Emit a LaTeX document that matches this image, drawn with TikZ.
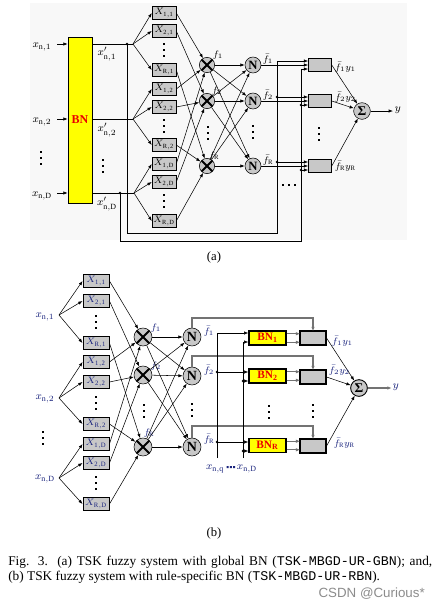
\documentclass[tikz,border=0pt]{standalone}
\usepackage{fontspec}
\setmainfont{Liberation Serif}
\setmonofont{Liberation Mono}
\newfontfamily\wmfont{Liberation Sans}
\usetikzlibrary{arrows.meta,calc}
\definecolor{boxgray}{RGB}{200,200,200}
\definecolor{bgA}{RGB}{248,248,248}
\definecolor{lblue}{RGB}{25,35,125}
\definecolor{bnred}{RGB}{235,0,0}
\definecolor{bnyel}{RGB}{255,255,0}
\newcommand\vdts[2]{\foreach \dy in {-6,0,6}{\fill (#1-1.2,#2+\dy-1.2) rectangle ++(2.4,2.4);}}
\newcommand\hdts[2]{\foreach \dx in {-6,0,6}{\fill (#1+\dx-1.2,#2-1.2) rectangle ++(2.4,2.4);}}
\newcommand\jdot[1]{\fill (#1) circle (1pt);}
\begin{document}
\begin{tikzpicture}[x=0.75pt,y=-0.75pt,
  line width=0.4pt,
  arr/.style={-{Latex[length=3.2pt,width=2.4pt]}},
  garr/.style={draw=black!55,line width=0.9pt,-{Latex[length=3.2pt,width=2.6pt]},shorten >=-0.5pt},
  lbl/.style={inner sep=0.5pt,font=\fontsize{8.5}{9}\selectfont},
  lblb/.style={lbl,text=lblue},
  sml/.style={inner sep=0.5pt,font=\fontsize{7}{7}\selectfont},
  smlb/.style={sml,text=lblue},
  mfa/.style={draw,fill=boxgray,minimum width=18pt,minimum height=9.5pt,inner sep=0pt,font=\fontsize{6.8}{7}\selectfont},
  mfb/.style={draw,line width=0.7pt,fill=boxgray,minimum width=19.5pt,minimum height=9.8pt,inner sep=0pt,font=\fontsize{7}{7}\selectfont,text=lblue},
  prod/.style={circle,draw,fill=boxgray,inner sep=0pt,
     path picture={\draw[line width=1.5pt] (path picture bounding box.south west) -- (path picture bounding box.north east)
        (path picture bounding box.north west) -- (path picture bounding box.south east);}},
  proda/.style={prod,minimum size=11.5pt},
  prodb/.style={prod,minimum size=13.5pt},
  nrm/.style={circle,draw,fill=boxgray,inner sep=0pt,font=\bfseries\fontsize{9.5}{9.5}\selectfont},
  nrma/.style={nrm,minimum size=12pt},
  nrmb/.style={nrm,minimum size=13.5pt,font=\bfseries\fontsize{10.5}{10.5}\selectfont},
  sumn/.style={circle,draw,fill=boxgray,minimum size=12.5pt,inner sep=0pt,font=\bfseries\fontsize{10}{10}\selectfont},
  rula/.style={draw,fill=boxgray,minimum width=17.25pt,minimum height=9.75pt,inner sep=0pt},
  rulb/.style={draw,line width=0.8pt,fill=boxgray,minimum width=19.5pt,minimum height=10.5pt,inner sep=0pt},
  bnb/.style={draw,line width=0.9pt,fill=bnyel,minimum width=27.75pt,minimum height=10.5pt,inner sep=0pt,text=bnred,font=\bfseries\fontsize{8.5}{8.5}\selectfont}
]
\useasboundingbox (0,0) rectangle (439,608);
\fill[white] (0,0) rectangle (439,608);
\fill[bgA] (30,3) rectangle (407,240);

%% ================= (a) =================
\node[draw,fill=bnyel,minimum width=18pt,minimum height=124.5pt,inner sep=0pt,text=bnred,font=\bfseries\fontsize{9}{9}\selectfont] (bn) at (80,120) {BN};
\node[lbl] (xa1) at (42,47) {$x_{\mathrm{n},1}$};
\node[lbl] (xa2) at (42,122) {$x_{\mathrm{n},2}$};
\node[lbl] (xaD) at (42,196) {$x_{\mathrm{n,D}}$};
\coordinate (ia1) at (57,44); \coordinate (ia2) at (57,119); \coordinate (iaD) at (57,193);
\draw[arr] (ia1) -- (ia1 -| bn.west);
\draw[arr] (ia2) -- (ia2 -| bn.west);
\draw[arr] (iaD) -- (iaD -| bn.west);
\vdts{41}{158}
\node[lbl] (xpa1) at (107,54) {$x'_{\mathrm{n},1}$};
\node[lbl] (xpa2) at (107,130) {$x'_{\mathrm{n},2}$};
\node[lbl] (xpaD) at (107,204) {$x'_{\mathrm{n,D}}$};
\vdts{103}{166}

\foreach \nm/\yy/\lab in {ma11/13/{1,1},ma21/31/{2,1},maR1/70/{R,1},ma12/89/{1,2},ma22/107/{2,2},maR2/145/{R,2},ma1D/164/{1,D},ma2D/182/{2,D},maRD/221/{R,D}}
  \node[mfa] (\nm) at (164,\yy) {$X_{\mathrm{\lab}}$};
\vdts{164}{50}\vdts{164}{126}\vdts{164}{201}

\coordinate (ba1) at (133,44); \coordinate (ba2) at (133,119); \coordinate (baD) at (134,193);
\draw (ba1 -| bn.east) -- (ba1);
\draw (ba2 -| bn.east) -- (ba2);
\draw (baD -| bn.east) -- (baD);
\foreach \t in {ma11,ma21,maR1} \draw[arr] (ba1) -- (\t.west);
\foreach \t in {ma12,ma22,maR2} \draw[arr] (ba2) -- (\t.west);
\foreach \t in {ma1D,ma2D,maRD} \draw[arr] (baD) -- (\t.west);

\node[proda] (pa1) at (207,65) {};
\node[proda] (pa2) at (207,101) {};
\node[proda] (paR) at (207,166) {};
\vdts{208}{133}
\node[nrma] (na1) at (253,65) {N};
\node[nrma] (na2) at (253,101) {N};
\node[nrma] (naR) at (253,166) {N};
\vdts{253}{132}
\node[sml] at (218,55) {$f_1$};
\node[sml] at (217,91) {$f_2$};
\node[sml] at (214,156) {$f_{\mathrm{R}}$};

\foreach \s/\t in {ma11/pa1,ma12/pa1,ma1D/pa1,ma21/pa2,ma22/pa2,ma2D/pa2,maR1/paR,maR2/paR,maRD/paR}
  \draw[arr] (\s.east) -- (\t);
\foreach \i in {1,2,R} \foreach \j in {1,2,R} \draw[arr] (pa\i) -- (na\j);

\node[rula] (ra1) at (320,65) {};
\node[rula] (ra2) at (320,101) {};
\node[rula] (raR) at (320,166) {};
\vdts{319}{134}
\hdts{289}{185}
\draw[arr] (na1) -- (na1 -| ra1.west);
\draw[arr] (na2) -- (na2 -| ra2.west);
\draw[arr] (naR) -- (naR -| raR.west);
\node[sml] at (268,59) {$\bar f_1$};
\node[sml] at (268,95) {$\bar f_2$};
\node[sml] at (268,160) {$\bar f_{\mathrm{R}}$};

\coordinate (da1) at (127,44); \coordinate (daD) at (120,193);
\jdot{da1}\jdot{daD}
\coordinate (ca1) at (127,233); \coordinate (ca2) at (277,233); \coordinate (ca3) at (277,61);
\draw[arr] (da1) -- (ca1) -- (ca2) -- (ca3) -- (ca3 -| ra1.west);
\coordinate (cb1) at (120,241); \coordinate (cb2) at (301,241); \coordinate (cb3) at (301,69);
\draw[arr] (daD) -- (cb1) -- (cb2) -- (cb3) -- (cb3 -| ra1.west);
\coordinate (j2a) at (277,97); \coordinate (j2b) at (301,105);
\coordinate (jRa) at (277,162); \coordinate (jRb) at (301,170);
\foreach \j/\r in {j2a/ra2,j2b/ra2,jRa/raR,jRb/raR} {\jdot{\j}\draw[arr] (\j) -- (\j -| \r.west);}

\node[sumn] (sa) at (362,111) {Σ};
\foreach \r in {ra1,ra2,raR} \draw[arr] (\r.east) -- (sa);
\coordinate (ya) at (393,111);
\draw[arr] (sa) -- (ya);
\node[lbl,anchor=west] at (394,110) {$y$};
\node[sml,anchor=west] at (334,67) {$\bar f_1 y_1$};
\node[sml,anchor=west] at (334,97) {$\bar f_2 y_2$};
\node[sml,anchor=west] at (334,166) {$\bar f_{\mathrm{R}} y_{\mathrm{R}}$};

\node[font=\fontsize{9.5}{10}\selectfont] (capa) at (214,257) {(a)};

%% ================= (b) =================
\node[lblb] (xb1) at (45,317) {$x_{\mathrm{n},1}$};
\node[lblb] (xb2) at (45,399) {$x_{\mathrm{n},2}$};
\node[lblb] (xbD) at (45,479) {$x_{\mathrm{n,D}}$};
\vdts{43}{438}
\foreach \nm/\yy/\lab in {mb11/281/{1,1},mb21/301/{2,1},mbR1/343/{R,1},mb12/362/{1,2},mb22/382/{2,2},mbR2/424/{R,2},mb1D/444/{1,D},mb2D/463/{2,D},mbRD/504/{R,D}}
  \node[mfb] (\nm) at (96,\yy) {$X_{\mathrm{\lab}}$};
\vdts{96}{322}\vdts{96}{403}\vdts{96}{483}
\coordinate (sb1) at (59,315); \coordinate (sb2) at (59,398); \coordinate (sbD) at (59,478);
\foreach \t in {mb11,mb21,mbR1} \draw[arr] (sb1) -- (\t.west);
\foreach \t in {mb12,mb22,mbR2} \draw[arr] (sb2) -- (\t.west);
\foreach \t in {mb1D,mb2D,mbRD} \draw[arr] (sbD) -- (\t.west);

\node[prodb] (pb1) at (143,337) {};
\node[prodb] (pb2) at (143,375) {};
\node[prodb] (pbR) at (143,447) {};
\vdts{144}{411}
\node[nrmb] (nb1) at (192,337) {N};
\node[nrmb] (nb2) at (192,376) {N};
\node[nrmb] (nbR) at (192,447) {N};
\vdts{192}{410}
\node[smlb] at (156,328) {$f_1$};
\node[smlb] at (156,366) {$f_2$};
\node[smlb] at (149,433) {$f_{\mathrm{R}}$};
\node[smlb] at (209,331) {$\bar f_1$};
\node[smlb] at (209,370) {$\bar f_2$};
\node[smlb] at (209,439) {$\bar f_{\mathrm{R}}$};

\foreach \s/\t in {mb11/pb1,mb12/pb1,mb1D/pb1,mb21/pb2,mb22/pb2,mb2D/pb2,mbR1/pbR,mbR2/pbR,mbRD/pbR}
  \draw[arr] (\s.east) -- (\t);
\foreach \i in {1,2,R} \foreach \j in {1,2,R} \draw[arr] (pb\i) -- (nb\j);

\node[bnb] (bnb1) at (267.5,338) {BN$_{\mathbf{1}}$};
\node[bnb] (bnb2) at (267.5,376) {BN$_{\mathbf{2}}$};
\node[bnb] (bnbR) at (267.5,445.5) {BN$_{\mathbf{R}}$};
\vdts{269}{412}
\node[rulb] (rb1) at (313,338) {};
\node[rulb] (rb2) at (313,377) {};
\node[rulb] (rbR) at (313,446) {};
\vdts{313}{411}

\coordinate (t1) at (192,318); \coordinate (t2) at (192,356); \coordinate (tR) at (192,426);
\draw[garr] (nb1) -- (t1) -- (t1 -| rb1) -- (rb1.north);
\draw[garr] (nb2) -- (t2) -- (t2 -| rb2) -- (rb2.north);
\draw[garr] (nbR) -- (tR) -- (tR -| rbR) -- (rbR.north);

\coordinate (q1) at (217,333); \coordinate (qe) at (217,458);
\coordinate (d1) at (243,342); \coordinate (de) at (243,458);
\draw (qe) -- (q1);
\draw (de) -- (d1);
\draw[arr] (q1) -- (q1 -| bnb1.west);
\draw[arr] (d1) -- (d1 -| bnb1.west);
\coordinate (q2) at (217,372); \coordinate (qR) at (217,442);
\coordinate (d2) at (243,381); \coordinate (dR) at (243,451);
\foreach \j/\r in {q2/bnb2,qR/bnbR,d2/bnb2,dR/bnbR} {\jdot{\j}\draw[arr] (\j) -- (\j -| \r.west);}
\foreach \b/\r in {bnb1/rb1,bnb2/rb2,bnbR/rbR} {
  \draw[garr] ([yshift=3.2pt]\b.east) -- ([yshift=3.2pt]\b.east -| \r.west);
  \draw[garr] ([yshift=-3.2pt]\b.east) -- ([yshift=-3.2pt]\b.east -| \r.west);}
\node[lblb,anchor=east] (xq) at (225,469) {$x_{\mathrm{n,q}}$};
\node[lblb,anchor=west] (xd) at (236,469) {$x_{\mathrm{n,D}}$};
\fill[lblue] (226.5,466) rectangle ++(2,2) (229.8,466) rectangle ++(2,2) (233.1,466) rectangle ++(2,2);

\node[sumn,line width=0.7pt] (sb) at (359,388) {Σ};
\foreach \r in {rb1,rb2,rbR} \draw[arr] (\r.east) -- (sb);
\coordinate (yb) at (391,388);
\draw[garr] (sb) -- (yb);
\node[lblb,anchor=west] at (392,387) {$y$};
\node[smlb,anchor=west] at (331,341) {$\bar f_1 y_1$};
\node[smlb,anchor=west] at (328,370) {$\bar f_2 y_2$};
\node[smlb,anchor=west] at (333,443) {$\bar f_{\mathrm{R}} y_{\mathrm{R}}$};

\node[font=\fontsize{9.5}{10}\selectfont] (capb) at (214,533) {(b)};

%% caption
\node[anchor=west,inner sep=0pt,font=\fontsize{10}{12}\selectfont] (cap1) at (8,562) {\makebox[318pt][s]{Fig. 3.\ \ (a) TSK fuzzy system with global BN (\texttt{TSK-MBGD-UR-GBN}); and,}};
\node[anchor=west,inner sep=0pt,font=\fontsize{10}{12}\selectfont] (cap2) at (8,577) {(b) TSK fuzzy system with rule-specific BN (\texttt{TSK-MBGD-UR-RBN}).};
\node[anchor=east,inner sep=0pt,text=black!45,font=\wmfont\fontsize{10}{11}\selectfont] (wm) at (425,594) {CSDN @Curious*};
\end{tikzpicture}
\end{document}
